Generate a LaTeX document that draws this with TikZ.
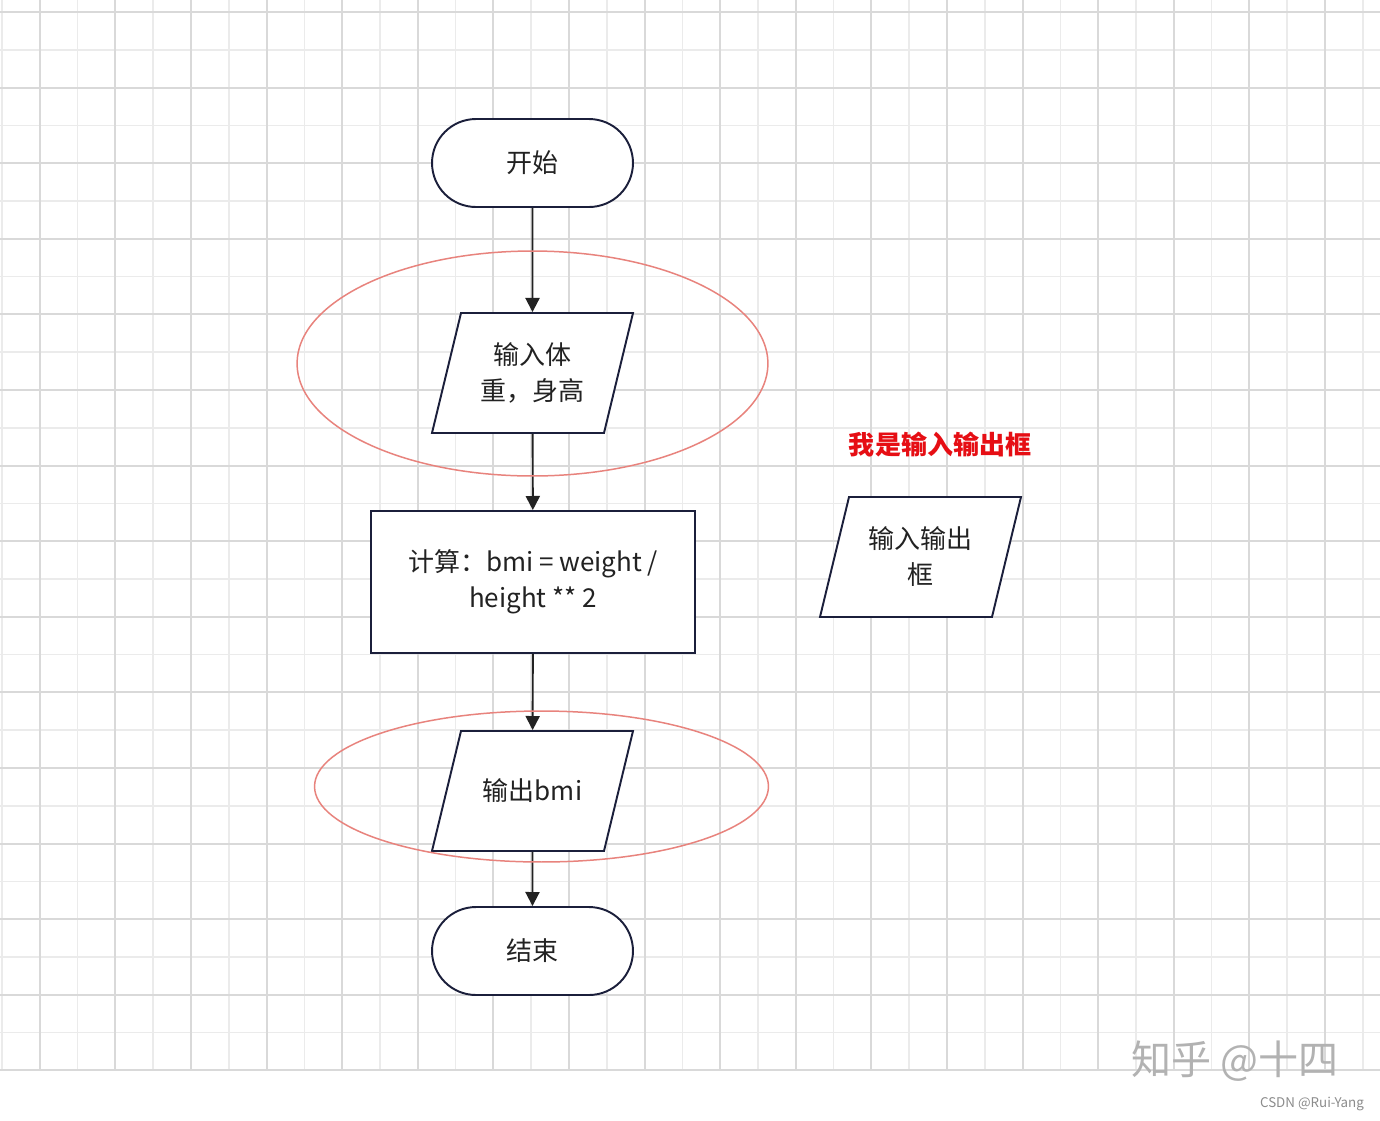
\documentclass[tikz,border=0pt]{standalone}
\usepackage{fontspec}
\setmainfont{Noto Sans CJK SC}
\usetikzlibrary{shapes.geometric,arrows.meta}
\definecolor{linenavy}{HTML}{1B1F3B}
\definecolor{ringred}{HTML}{E8837D}
\definecolor{notered}{HTML}{E60E14}
\definecolor{gridmajor}{HTML}{D9D9D9}
\definecolor{gridminor}{HTML}{EBEBEB}
\definecolor{textdark}{HTML}{222222}
\newcommand{\iobox}[1]{\parbox[c][2.4cm][c]{2.86cm}{\centering #1}}

\begin{document}
\begin{tikzpicture}[
x=0.02cm, y=-0.02cm,
font=\fontsize{14.8}{20.5}\selectfont,
terminal/.style={draw=linenavy,line width=1.1pt,fill=white,text=textdark,rounded corners=0.88cm,minimum width=4.02cm,minimum height=1.76cm,inner sep=0pt},
inout/.style={draw=linenavy,line width=1.1pt,fill=white,text=textdark,trapezium,trapezium left angle=76.4,trapezium right angle=103.6,inner sep=0pt},
process/.style={draw=linenavy,line width=1.1pt,fill=white,text=textdark,minimum width=6.48cm,minimum height=2.84cm,inner sep=0pt,align=center},
flow/.style={draw=textdark,line width=1.1pt,-{Triangle[length=8pt,width=8pt]}},
ring/.style={draw=ringred,line width=0.85pt}
]
    \useasboundingbox (0,0) rectangle (1380,1120);
    \fill[white] (0,0) rectangle (1380,1120);

    % Draw grid
    \foreach \k in {0,...,18}
        \draw[gridminor, line width=0.85pt] ({2+75.6*\k},0) -- ({2+75.6*\k},1070);
    \foreach \k in {0,...,13}
        \draw[gridminor, line width=0.85pt] (0,{49.8+75.6*\k}) -- (1380,{49.8+75.6*\k});
    \foreach \k in {0,...,17}
        \draw[gridmajor, line width=1.1pt] ({39.8+75.6*\k},0) -- ({39.8+75.6*\k},1070);
    \foreach \k in {0,...,14}
        \draw[gridmajor, line width=1.1pt] (0,{12+75.6*\k}) -- (1380,{12+75.6*\k});

    % Flow chart
    \node[terminal] (start) at (532.5,163) {开始};
    \node[inout] (input) at (532.5,373) {\iobox{输入体\\重，身高}};
    \node[process] (calc) at (533,582) {计算：bmi = weight /\\height ** 2};
    \node[inout] (output) at (532.5,791) {\iobox{输出bmi}};
    \node[terminal] (stop) at (532.5,951) {结束};

    \draw[flow] (start) -- (input);
    \draw[flow] (input) -- (calc);
    \draw[flow] (calc) -- (output);
    \draw[flow] (output) -- (stop);

    % Red rings
    \draw[ring] (532.5,363.5) ellipse [x radius=4.71cm, y radius=2.25cm];
    \draw[ring] (541.5,786.5) ellipse [x radius=4.54cm, y radius=1.51cm];

    % Legend
    \node[text=notered, font=\fontsize{14.8}{20.5}\selectfont\bfseries] (note) at (940,445) {我是输入输出框};
    \node[inout] (sample) at (920.5,557) {\iobox{输入输出\\框}};

    % Watermarks
    \node[text=black!30, font=\fontsize{22.8}{24}\selectfont] (zhihu) at (1235,1061) {知乎 @十四};
    \node[text=black!45, font=\fontsize{7.6}{9}\selectfont] (csdn) at (1312,1104) {CSDN @Rui-Yang};
\end{tikzpicture}
\end{document}
